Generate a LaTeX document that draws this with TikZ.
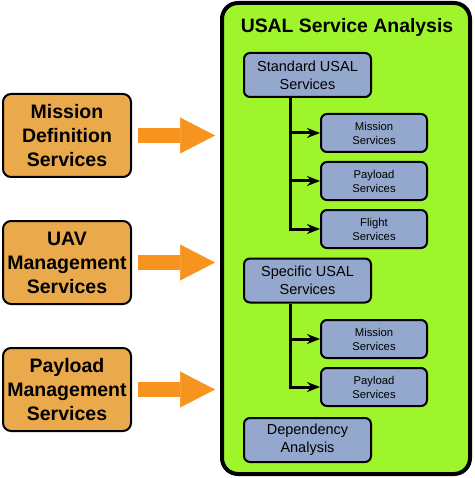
\documentclass[tikz,border=0pt]{standalone}
\usepackage{fontspec}
\setmainfont{Liberation Sans}
\usetikzlibrary{arrows.meta, positioning}

\definecolor{srvorange}{HTML}{EAA94B}
\definecolor{arroworange}{HTML}{F7941E}
\definecolor{usalgreen}{HTML}{9FF52B}
\definecolor{srvblue}{HTML}{93A8CC}

\begin{document}
\begin{tikzpicture}[
    x=1pt, y=-1pt,
    srvbox/.style={rectangle, draw=black, fill=srvorange, line width=2pt, minimum width=128pt, minimum height=83pt, align=center, rounded corners=8pt, font=\bfseries\fontsize{19.5}{24}\selectfont},
    usalbox/.style={rectangle, draw=black, fill=usalgreen, line width=4pt, minimum width=248pt, minimum height=471pt, rounded corners=16pt},
    bigbox/.style={rectangle, draw=black, fill=srvblue, line width=2pt, minimum width=127pt, minimum height=44pt, align=center, rounded corners=6pt, font=\fontsize{14.5}{18}\selectfont},
    smallbox/.style={rectangle, draw=black, fill=srvblue, line width=2pt, minimum width=106pt, minimum height=38pt, align=center, rounded corners=6pt, font=\fontsize{11.3}{14}\selectfont},
    bigarrow/.style={-{Triangle[length=35pt, width=36pt, line width=0.5pt]}, line width=15pt, draw=arroworange, shorten <=6pt, shorten >=5pt},
    branch/.style={-{Stealth[length=13pt, width=10pt]}, line width=3pt, draw=black}
]
\useasboundingbox (0,0) rectangle (474,478);

% left column
\node (mission) [srvbox] at (67,135.5) {Mission\\Definition\\Services};
\node (uav) [srvbox, below=42pt of mission] {UAV\\Management\\Services};
\node (payload) [srvbox, below=42pt of uav] {Payload\\Management\\Services};

% USAL frame
\node (usal) [usalbox] at (346,238.5) {};
\node (title) at (347,27) {\bfseries\fontsize{19.4}{23}\selectfont USAL Service Analysis};

\node (std) [bigbox] at (307.5,75) {Standard USAL\\Services};
\node (ms1) [smallbox] at (374,133) {Mission\\Services};
\node (pl1) [smallbox, below=8pt of ms1] {Payload\\Services};
\node (fl1) [smallbox, below=8pt of pl1] {Flight\\Services};

\node (spec) [bigbox] at (307.5,280.5) {Specific USAL\\Services};
\node (ms2) [smallbox] at (374,339) {Mission\\Services};
\node (pl2) [smallbox, below=8pt of ms2] {Payload\\Services};

\node (dep) [bigbox] at (307.5,440) {Dependency\\Analysis};

\draw [bigarrow] (mission.east) -- (mission.east -| usal.west);
\draw [bigarrow] (uav.east) -- (uav.east -| usal.west);
\draw [bigarrow] (payload.east) -- (payload.east -| usal.west);

\coordinate (t1) at ([xshift=47pt]std.south west);
\coordinate (t2) at ([xshift=47pt]spec.south west);
\foreach \b in {ms1,pl1,fl1}
    \draw [branch] (t1) |- (\b.west);
\foreach \b in {ms2,pl2}
    \draw [branch] (t2) |- (\b.west);

\end{tikzpicture}
\end{document}
